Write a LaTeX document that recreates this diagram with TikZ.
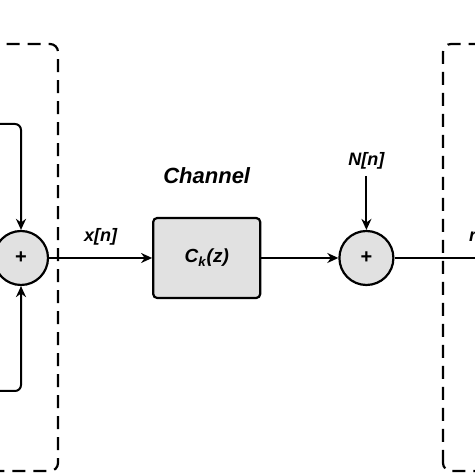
\documentclass[tikz,border=0pt]{standalone}
\usepackage{fontspec}
\setsansfont{Liberation Sans}
\usetikzlibrary{arrows.meta, positioning}
\definecolor{blockGray}{RGB}{225,225,225}

\begin{document}
\begin{tikzpicture}[
    x=0.5pt, y=0.5pt,
    node distance=20pt,
    adder/.style={circle, draw=black, line width=1.1pt, fill=blockGray, minimum size=27pt, inner sep=0pt, font=\sffamily\bfseries\fontsize{10}{12}\selectfont},
    block/.style={rectangle, rounded corners=2pt, draw=black, line width=1.1pt, fill=blockGray, minimum width=53.5pt, minimum height=40pt, font=\sffamily\bfseries\itshape\fontsize{9.5}{11}\selectfont},
    lbl/.style={font=\sffamily\bfseries\itshape\fontsize{9}{11}\selectfont},
    title/.style={font=\sffamily\bfseries\itshape\fontsize{11}{13}\selectfont},
    arrow/.style={-{Stealth[length=5.5pt, width=5pt]}, line width=1pt},
    wire/.style={line width=1pt},
    dashbox/.style={dash pattern=on 6.5pt off 4pt, line width=1.1pt, rounded corners=4pt}
]
\useasboundingbox (0,0) rectangle (474,474);

% Transmitter and receiver frames
\draw[dashbox] (-40,3) rectangle (58,430);
\draw[dashbox] (443,3) rectangle (530,430);

% Adders and channel
\node[adder] (sumtx) at (21,216) {+};
\node[block, right=51.5pt of sumtx] (chan) {C\textsubscript{k}(z)};
\node[adder, right=38.5pt of chan] (sumrx) {+};

% Labels
\node[title, above=13pt of chan] (chanlbl) {Channel};
\node[lbl, above=27pt of sumrx] (noise) {N[n]};
\node[lbl, anchor=west] (rxlbl) at (462,237) {r[n]};

% Free ends
\coordinate (txtop) at (-10,350);
\coordinate (txbot) at (-10,83);
\coordinate (rxout) at (490,216);

% Arrows
\draw[arrow, rounded corners=3pt] (txtop) -| (sumtx);
\draw[arrow, rounded corners=3pt] (txbot) -| (sumtx);
\draw[arrow] (sumtx) -- node[lbl, above=2.5pt] (xlbl) {x[n]} (chan);
\draw[arrow] (chan) -- (sumrx);
\draw[arrow] (noise) -- (sumrx);
\draw[wire] (sumrx) -- (rxout);

\end{tikzpicture}
\end{document}
